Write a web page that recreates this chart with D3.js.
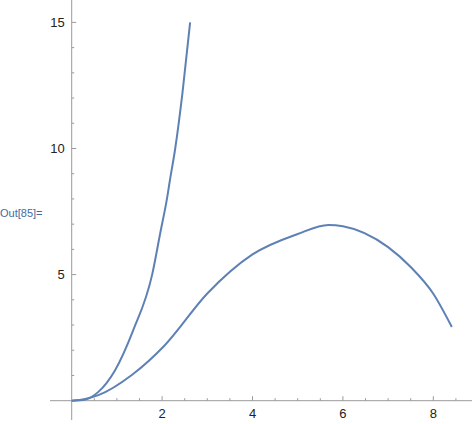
<!DOCTYPE html>
<html>
<head>
<meta charset="utf-8">
<script src="https://cdn.jsdelivr.net/npm/d3@7"></script>
<style>
body { margin: 0; background: #fff; }
text { font-family: "Liberation Sans", Arial, sans-serif; }
</style>
</head>
<body>
<svg id="mainFrame"></svg>
<script>
// values
const steepX = [0, 0.3, 0.59, 0.96, 1.36, 1.78, 1.97, 2.1, 2.17, 2.29, 2.45, 2.62];
const steepY = [0, 0.05, 0.35, 1.21, 2.79, 5.0, 6.75, 7.93, 8.71, 10.0, 12.2, 15.0];
const archX = [0, 0.3, 0.59, 1.33, 2.06, 3, 4, 5, 5.68, 6, 7, 7.5, 8, 8.41];
const archY = [0, 0.07, 0.22, 1.02, 2.2, 4.25, 5.8, 6.61, 6.97, 6.92, 6.09, 5.3, 4.24, 2.92];
const xTicks = [2, 4, 6, 8];
const yTicks = [5, 10, 15];

const svg = d3.select('#mainFrame')
    .attr('width', 474)
    .attr('height', 424);

const x = d3.scaleLinear().domain([0, 8]).range([71.7, 433.3]);
const y = d3.scaleLinear().domain([0, 15]).range([400.7, 22.4]);

const axisColor = '#9a9a9a';

// x axis
const gx = svg.append('g').attr('transform', `translate(0,${y(0)})`);
gx.append('line').attr('x1', 50).attr('x2', 472).attr('stroke', axisColor);
const xMinor = d3.range(0.5, 8.6, 0.5).filter(v => v % 2 !== 0);
gx.selectAll('.minor').data(xMinor).join('line')
    .attr('x1', d => x(d)).attr('x2', d => x(d)).attr('y1', 0).attr('y2', -2.5)
    .attr('stroke', axisColor);
gx.selectAll('.major').data(xTicks).join('line')
    .attr('x1', d => x(d)).attr('x2', d => x(d)).attr('y1', 0).attr('y2', -4.5)
    .attr('stroke', axisColor);
gx.selectAll('text').data(xTicks).join('text')
    .attr('x', d => x(d)).attr('y', 17)
    .attr('text-anchor', 'middle').attr('font-size', 13).attr('fill', '#222')
    .text(d => d);

// y axis
const gy = svg.append('g').attr('transform', `translate(${x(0)},0)`);
gy.append('line').attr('y1', 0).attr('y2', 420).attr('stroke', axisColor);
const yMinor = d3.range(1, 16).filter(v => v % 5 !== 0);
gy.selectAll('.minor').data(yMinor).join('line')
    .attr('y1', d => y(d)).attr('y2', d => y(d)).attr('x1', 0).attr('x2', 2.5)
    .attr('stroke', axisColor);
gy.selectAll('.major').data(yTicks).join('line')
    .attr('y1', d => y(d)).attr('y2', d => y(d)).attr('x1', 0).attr('x2', 4.5)
    .attr('stroke', axisColor);
gy.selectAll('text').data(yTicks).join('text')
    .attr('x', -7).attr('y', d => y(d)).attr('dy', '0.35em')
    .attr('text-anchor', 'end').attr('font-size', 13).attr('fill', '#222')
    .text(d => d);

// curves
const line = d3.line().x(d => x(d[0])).y(d => y(d[1])).curve(d3.curveMonotoneX);
[[steepX, steepY], [archX, archY]].forEach(([xs, ys]) => {
    svg.append('path')
        .datum(xs.map((v, i) => [v, ys[i]]))
        .attr('d', line)
        .attr('fill', 'none')
        .attr('stroke', '#5e81b5')
        .attr('stroke-width', 2);
});

svg.append('text')
    .attr('x', 0).attr('y', 217)
    .attr('font-size', 11).attr('fill', '#3f6c9c')
    .text('Out[85]=');
</script>
</body>
</html>
